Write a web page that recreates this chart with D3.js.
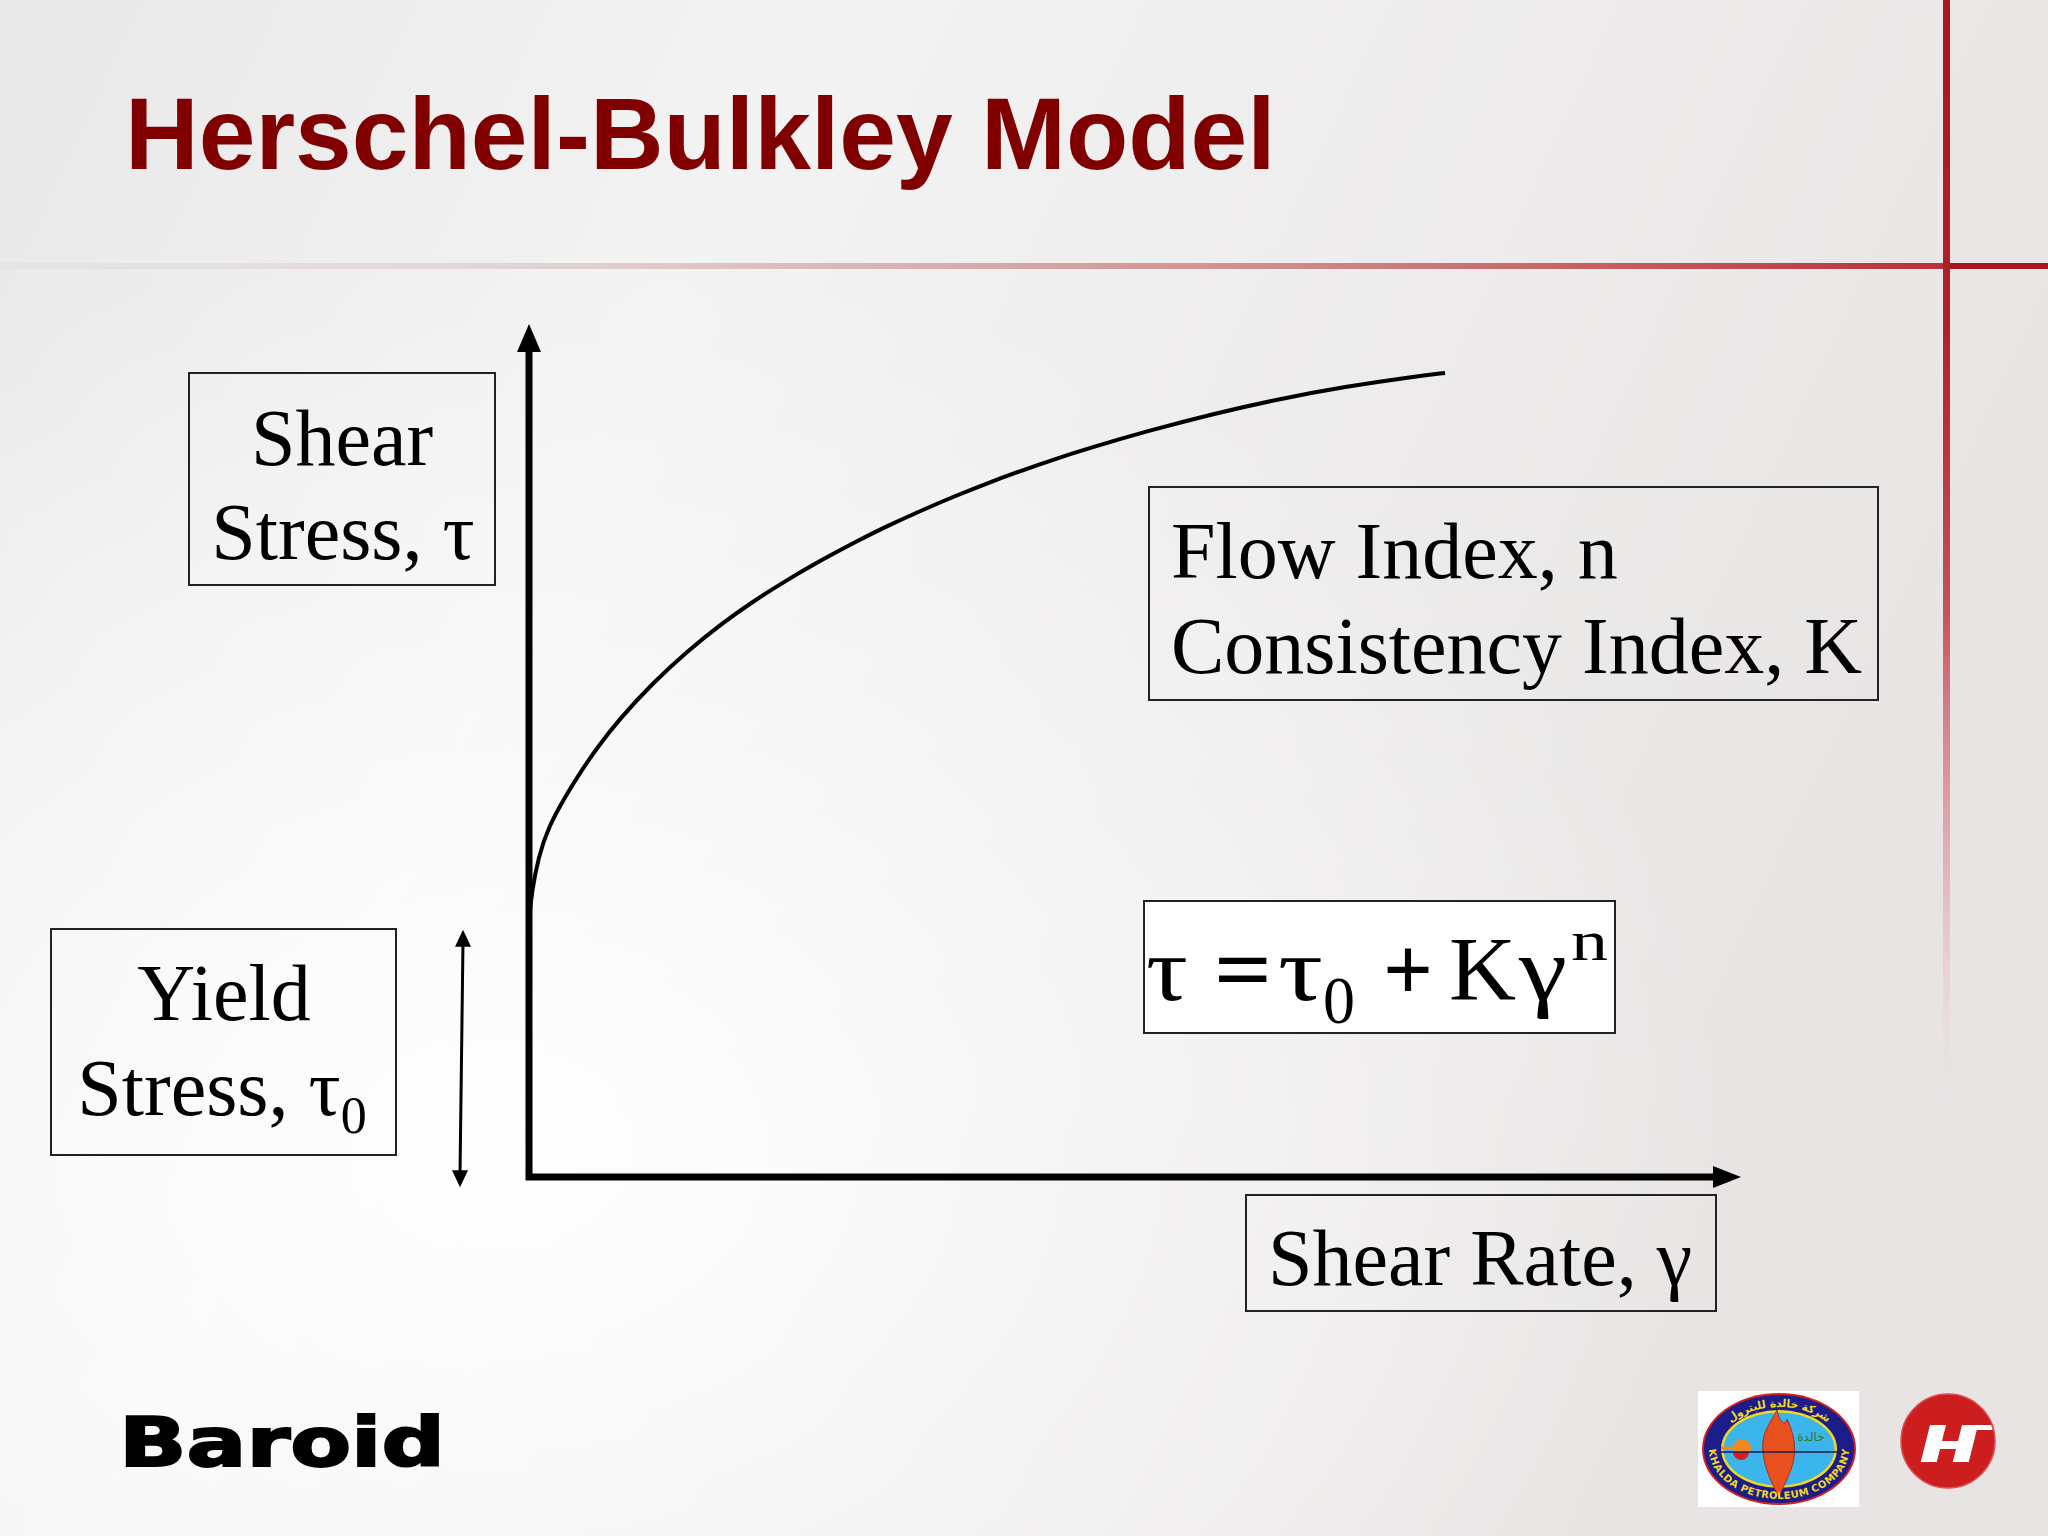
<!DOCTYPE html>
<html>
<head>
<meta charset="utf-8">
<script src="https://cdn.jsdelivr.net/npm/d3@7"></script>
<style>
  html, body { margin: 0; padding: 0; background: #f2f1f1; }
  svg { display: block; }
</style>
</head>
<body>
<div id="chart"></div>
<script>
// Curve, in arbitrary units (both axes run 0 - 100)
const shearRate = [0, 0.04, 0.22, 0.77, 1.59, 2.97, 4.37, 5.69, 7.51, 10.23, 13.04, 15.76, 18.48,
  21.29, 24.01, 26.73, 29.54, 32.26, 34.98, 37.79, 40.51, 43.23, 46.04, 50.99, 56.44, 61.96, 67.49, 72.94, 75.58];
const shearStress = [29.0, 30.7, 33.3, 37.5, 41.0, 44.55, 47.74, 50.46, 53.76, 57.94, 61.61, 64.74, 67.48,
  69.99, 72.23, 74.31, 76.31, 78.07, 79.73, 81.32, 82.75, 84.09, 85.37, 87.44, 89.47, 91.24, 92.69, 93.82, 94.26];

// yield stress arrow spans roughly this stress range
const yieldArrowRange = [-1.2, 29];

const titleText = "Herschel-Bulkley Model";
const shearStressLines = ["Shear", "Stress, τ"];
const yieldLines = ["Yield", "Stress, τ"];
const indexLines = ["Flow Index, n", "Consistency Index, K"];
const rateLabel = "Shear Rate, γ";
const footerText = "Baroid";

const W = 2048, H = 1536;
const serif = "'Liberation Serif', 'Times New Roman', serif";
const sans = "'Liberation Sans', Arial, sans-serif";

const svg = d3.select("#chart")
    .append("svg")
    .attr("width", W)
    .attr("height", H);

const defs = svg.append("defs");

// ---- background ----
const bg = defs.append("linearGradient").attr("id", "bg")
    .attr("x1", 0).attr("y1", 0).attr("x2", 1).attr("y2", 0.35);
bg.append("stop").attr("offset", 0).attr("stop-color", "#e8e8e8");
bg.append("stop").attr("offset", 0.35).attr("stop-color", "#f3f3f3");
bg.append("stop").attr("offset", 1).attr("stop-color", "#e8e4e4");

const glow = defs.append("radialGradient").attr("id", "glow")
    .attr("cx", 0.25).attr("cy", 0.75).attr("r", 0.6);
glow.append("stop").attr("offset", 0).attr("stop-color", "#fff").attr("stop-opacity", 0.95);
glow.append("stop").attr("offset", 1).attr("stop-color", "#fff").attr("stop-opacity", 0);

svg.append("rect").attr("width", W).attr("height", H).attr("fill", "url(#bg)");
svg.append("rect").attr("width", W).attr("height", H).attr("fill", "url(#glow)");

// ---- red frame lines ----
const hGrad = defs.append("linearGradient").attr("id", "hline")
    .attr("gradientUnits", "userSpaceOnUse")
    .attr("x1", 0).attr("y1", 0).attr("x2", 1946).attr("y2", 0);
hGrad.append("stop").attr("offset", 0).attr("stop-color", "#e2dede").attr("stop-opacity", 0.5);
hGrad.append("stop").attr("offset", 0.3).attr("stop-color", "#e0d0d0");
hGrad.append("stop").attr("offset", 0.65).attr("stop-color", "#cf8d8d");
hGrad.append("stop").attr("offset", 1).attr("stop-color", "#b8303a");

svg.append("rect").attr("x", 0).attr("y", 263).attr("width", 1946).attr("height", 6)
    .attr("fill", "url(#hline)");
svg.append("rect").attr("x", 1946).attr("y", 263).attr("width", 102).attr("height", 6)
    .attr("fill", "#a8161e");

const vGrad = defs.append("linearGradient").attr("id", "vline")
    .attr("gradientUnits", "userSpaceOnUse")
    .attr("x1", 0).attr("y1", 0).attr("x2", 0).attr("y2", 1100);
vGrad.append("stop").attr("offset", 0).attr("stop-color", "#a8161e");
vGrad.append("stop").attr("offset", 0.3).attr("stop-color", "#b0222a");
vGrad.append("stop").attr("offset", 0.55).attr("stop-color", "#c4505a");
vGrad.append("stop").attr("offset", 0.8).attr("stop-color", "#e2a4ac").attr("stop-opacity", 0.7);
vGrad.append("stop").attr("offset", 1).attr("stop-color", "#f0d4d8").attr("stop-opacity", 0);

svg.append("rect").attr("x", 1943).attr("y", 0).attr("width", 7).attr("height", 1100)
    .attr("fill", "url(#vline)");

// ---- title ----
svg.append("text")
    .attr("x", 125).attr("y", 169)
    .attr("font-family", sans).attr("font-weight", "bold")
    .attr("font-size", 102).attr("fill", "#800000")
    .text(titleText);

// ---- scales ----
const x = d3.scaleLinear().domain([0, 100]).range([529, 1741]);
const y = d3.scaleLinear().domain([0, 100]).range([1177, 324]);

// ---- axes with arrow heads ----
const arrowLen = 28, arrowHalf = 12;
svg.append("path")
    .attr("d", d3.line()([
        [x(0), y(100) + arrowLen - 4],
        [x(0), y(0)],
        [x(100) - arrowLen + 4, y(0)]
    ]))
    .attr("fill", "none")
    .attr("stroke", "#000")
    .attr("stroke-width", 7)
    .attr("stroke-linejoin", "miter");

svg.append("path")
    .attr("d", d3.line()([
        [x(0), y(100)],
        [x(0) - arrowHalf, y(100) + arrowLen],
        [x(0) + arrowHalf, y(100) + arrowLen]
    ]) + "Z")
    .attr("fill", "#000");

svg.append("path")
    .attr("d", d3.line()([
        [x(100), y(0)],
        [x(100) - arrowLen, y(0) - arrowHalf + 1],
        [x(100) - arrowLen, y(0) + arrowHalf - 1]
    ]) + "Z")
    .attr("fill", "#000");

// ---- the flow curve ----
const line = d3.line()
    .x(d => x(d[0]))
    .y(d => y(d[1]))
    .curve(d3.curveBasis);

svg.append("path")
    .datum(d3.zip(shearRate, shearStress))
    .attr("fill", "none")
    .attr("stroke", "#000")
    .attr("stroke-width", 4)
    .attr("d", line);

// ---- yield stress double arrow ----
const ya = { top: y(yieldArrowRange[1]), bottom: y(yieldArrowRange[0]), xTop: 463, xBot: 460 };
svg.append("line")
    .attr("x1", ya.xTop).attr("y1", ya.top + 12)
    .attr("x2", ya.xBot).attr("y2", ya.bottom - 12)
    .attr("stroke", "#000").attr("stroke-width", 3);
svg.append("path")
    .attr("d", d3.line()([[ya.xTop, ya.top], [ya.xTop - 8, ya.top + 17], [ya.xTop + 8, ya.top + 17]]) + "Z")
    .attr("fill", "#000");
svg.append("path")
    .attr("d", d3.line()([[ya.xBot, ya.bottom], [ya.xBot - 8, ya.bottom - 17], [ya.xBot + 8, ya.bottom - 17]]) + "Z")
    .attr("fill", "#000");

// ---- label boxes ----
function box(x0, y0, w, h, fill) {
    svg.append("rect")
        .attr("x", x0).attr("y", y0)
        .attr("width", w).attr("height", h)
        .attr("fill", fill || "none")
        .attr("stroke", "#222")
        .attr("stroke-width", 2);
}

function label(txt, x0, y0, size, anchor) {
    return svg.append("text")
        .attr("x", x0).attr("y", y0)
        .attr("font-family", serif)
        .attr("font-size", size)
        .attr("fill", "#000")
        .attr("text-anchor", anchor || "start")
        .text(txt);
}

// Shear stress
box(189, 373, 306, 212);
label(shearStressLines[0], 342, 465, 80, "middle");
label(shearStressLines[1], 343, 559, 80, "middle");

// Yield stress
box(51, 929, 345, 226);
label(yieldLines[0], 224, 1020, 80, "middle");
const yl = label(yieldLines[1], 222, 1115, 80, "middle");
yl.append("tspan").attr("font-size", 52).attr("dy", 18).text("0");

// Flow / consistency index
box(1149, 487, 729, 213);
label(indexLines[0], 1171, 578, 80);
label(indexLines[1], 1171, 673, 80);

// Equation, each glyph placed and sized to the slide
box(1144, 901, 471, 132, "#fff");
const eqGlyphs = [
    { t: "τ", x: 1146, y: 1000, size: 90, len: 42 },
    { t: "=", x: 1214, y: 1000, size: 90, len: 58, bold: true },
    { t: "τ", x: 1278, y: 1000, size: 90, len: 45 },
    { t: "0", x: 1323, y: 1023, size: 68, len: 32 },
    { t: "+", x: 1383, y: 1000, size: 90, len: 50, bold: true },
    { t: "K", x: 1449, y: 1000, size: 90, len: 67 },
    { t: "γ", x: 1519, y: 1000, size: 90, len: 48 },
    { t: "n", x: 1571, y: 960, size: 58, len: 37 }
];
svg.append("g").selectAll("text")
    .data(eqGlyphs)
    .join("text")
    .attr("x", d => d.x).attr("y", d => d.y)
    .attr("font-family", serif)
    .attr("font-size", d => d.size)
    .attr("font-weight", d => d.bold ? "bold" : "normal")
    .attr("textLength", d => d.len)
    .attr("lengthAdjust", "spacingAndGlyphs")
    .attr("fill", "#000")
    .text(d => d.t);

// Shear rate
box(1246, 1195, 470, 116);
label(rateLabel, 1268, 1285, 80);

// ---- footer ----
svg.append("text")
    .attr("x", 119).attr("y", 1466)
    .attr("font-family", "'DejaVu Sans', sans-serif")
    .attr("font-weight", "bold")
    .attr("font-size", 68)
    .attr("textLength", 326)
    .attr("lengthAdjust", "spacingAndGlyphs")
    .attr("fill", "#000")
    .attr("stroke", "#000")
    .attr("stroke-width", 2)
    .text(footerText);

// KPC logo
const kpc = svg.append("g").attr("transform", "translate(1779,1449)");
kpc.append("rect").attr("x", -81).attr("y", -58).attr("width", 161).attr("height", 116).attr("fill", "#fff");
kpc.append("ellipse").attr("rx", 77).attr("ry", 56).attr("fill", "#d42020");
kpc.append("ellipse").attr("rx", 75).attr("ry", 54).attr("fill", "#1c1c8a");
kpc.append("ellipse").attr("rx", 58).attr("ry", 39).attr("fill", "#f2d820");
kpc.append("ellipse").attr("rx", 55.5).attr("ry", 36.5).attr("fill", "#3cb4ec");
kpc.append("path").attr("d", "M-58,-1 L-36,-1").attr("stroke", "#f08a20").attr("stroke-width", 3);
kpc.append("circle").attr("cx", -37).attr("cy", -1).attr("r", 9).attr("fill", "#f08a20");
kpc.append("path").attr("d", "M-46,3 A8,8 0 0 0 -30,3 Z").attr("fill", "#d42020");
kpc.append("path")
    .attr("d", "M0,48 C-10,30 -18,10 -16,-8 C-14,-22 -6,-30 -2,-39 C0,-28 6,-22 8,-30 C14,-18 18,-2 14,14 C10,28 4,38 0,48 Z")
    .attr("fill", "#e8501e").attr("stroke", "#a02010").attr("stroke-width", 0.8);
kpc.append("path").attr("d", "M-58,3 L66,3").attr("stroke", "#1a1a50").attr("stroke-width", 1.5);
kpc.append("text").attr("x", 32).attr("y", -8)
    .attr("font-family", "'DejaVu Sans', sans-serif").attr("font-size", 12)
    .attr("text-anchor", "middle").attr("fill", "#2f7a1f").text("خالدة");

defs.append("path").attr("id", "kpcBottom").attr("d", "M-66,0 A66,46 0 0 0 66,0");
defs.append("path").attr("id", "kpcTop").attr("d", "M-66,0 A66,46 0 0 1 66,0");
kpc.append("text")
    .attr("font-family", "'DejaVu Sans', sans-serif").attr("font-weight", "bold")
    .attr("font-size", 10).attr("fill", "#f2d820").attr("dominant-baseline", "central")
    .append("textPath").attr("href", "#kpcBottom").attr("startOffset", "50%")
    .attr("text-anchor", "middle").text("KHALDA PETROLEUM COMPANY");
kpc.append("text")
    .attr("font-family", "'DejaVu Sans', sans-serif").attr("font-weight", "bold")
    .attr("font-size", 11).attr("fill", "#f2d820").attr("dominant-baseline", "central")
    .append("textPath").attr("href", "#kpcTop").attr("startOffset", "50%")
    .attr("text-anchor", "middle").text("شركة خالدة للبترول");

// H logo
defs.append("clipPath").attr("id", "hclip").append("circle").attr("r", 46);
const hal = svg.append("g").attr("transform", "translate(1948,1441)");
hal.append("circle").attr("r", 47).attr("fill", "#cc1e1e").attr("stroke", "#e05050").attr("stroke-width", 1.5);
const hg = hal.append("g").attr("clip-path", "url(#hclip)")
    .append("g").attr("transform", "skewX(-14)");
hg.append("rect").attr("x", -22).attr("y", -16).attr("width", 16).attr("height", 37).attr("fill", "#fff");
hg.append("rect").attr("x", 10).attr("y", -16).attr("width", 16).attr("height", 37).attr("fill", "#fff");
hg.append("rect").attr("x", -7).attr("y", 0).attr("width", 18).attr("height", 8).attr("fill", "#fff");
hg.append("rect").attr("x", 25).attr("y", -16).attr("width", 30).attr("height", 5).attr("fill", "#fff");
</script>
</body>
</html>
